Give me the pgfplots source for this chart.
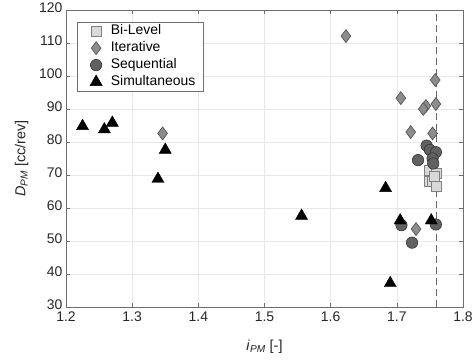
\documentclass[border=0pt]{standalone}
\usepackage{fontspec}
\setmainfont{Liberation Sans}
\usepackage{pgfplots}
\pgfplotsset{compat=1.18}
\usetikzlibrary{calc}
\definecolor{axgray}{HTML}{6E6E6E}
\definecolor{tickgray}{HTML}{262626}
\definecolor{gridgray}{HTML}{E8E8E8}
\begin{document}
\begin{tikzpicture}
\begin{axis}[
  name=ax,
  scale only axis,
  width=397bp, height=297bp,
  xmin=1.2, xmax=1.8, ymin=30, ymax=120,
  xtick={1.2,1.3,...,1.8}, ytick={30,40,...,120},
  /pgf/number format/assume math mode=true,
  xticklabel style={/pgf/number format/fixed,/pgf/number format/fixed zerofill,/pgf/number format/precision=1, yshift=-1bp},
  yticklabel style={yshift=2bp},
  ticklabel style={font=\fontsize{14}{16}\selectfont, text=tickgray},
  tick align=inside,
  major tick length=4bp,
  tick style={axgray, line width=0.5bp},
  axis line style={axgray, line width=0.6bp},
  grid=major,
  major grid style={gridgray, line width=0.5bp},
  xlabel={\textit{i}\textsubscript{\textit{PM}} [-]},
  ylabel={\textit{D}\textsubscript{\textit{PM}} [cc/rev]},
  label style={font=\fontsize{14.5}{16}\selectfont, text=tickgray},
  xlabel style={yshift=-12bp},
  ylabel style={yshift=4bp},
  legend style={at={(0.028,0.96)}, anchor=north west, draw=axgray, line width=0.5bp,
    font=\fontsize{14}{16}\selectfont, text=black, row sep=0bp, inner xsep=6bp, inner ysep=0.5bp,
    nodes={text height=10bp, text depth=3bp}},
  legend cell align=left,
  legend image code/.code={\path[draw=none,fill=none] (0,0) rectangle (0.9cm,0cm); \draw[#1] plot coordinates {(0.45cm,0cm)};},
]
% Bi-Level
\addplot[only marks, mark=square*, mark size=5bp, mark options={fill=black!15, draw=black!50, line width=0.6bp}]
 coordinates {(1.749,71.5) (1.759,70.6) (1.749,68.2) (1.754,68.0) (1.759,66.5) (1.756,69.5)};
\addlegendentry{Bi-Level}
% Iterative
\addplot[only marks, mark=diamond*, mark size=6.5bp, mark options={fill=black!45, draw=black!70, line width=0.6bp}]
 coordinates {(1.623,112.1) (1.346,82.6) (1.706,93.3) (1.758,98.8) (1.759,91.5) (1.744,90.9) (1.740,90.0) (1.721,83.0) (1.754,82.6) (1.729,53.6)};
\addlegendentry{Iterative}
% Sequential
\addplot[only marks, mark=*, mark size=5.7bp, mark options={fill=black!62, draw=black!80, line width=0.6bp}]
 coordinates {(1.745,78.9) (1.750,77.6) (1.759,76.9) (1.732,74.5) (1.754,75.0) (1.755,73.5) (1.707,54.8) (1.759,55.0) (1.723,49.5)};
\addlegendentry{Sequential}
% Simultaneous
\addplot[only marks, mark=triangle*, mark size=7bp, mark options={fill=black, draw=black}]
 coordinates {(1.225,84.8) (1.258,83.8) (1.270,85.8) (1.350,77.6) (1.339,68.8) (1.556,57.6) (1.683,66.0) (1.690,37.2) (1.705,56.2) (1.752,56.2)};
\addlegendentry{Simultaneous}
% dashed line
\addplot[forget plot, draw=black!60, line width=1.2bp, dash pattern=on 7bp off 4bp] coordinates {(1.76,30) (1.76,120)};
\end{axis}
\pgfresetboundingbox
\path ($(ax.south west)+(-66bp,-57bp)$) rectangle ($(ax.north east)+(11bp,10bp)$);
\end{tikzpicture}
\end{document}
